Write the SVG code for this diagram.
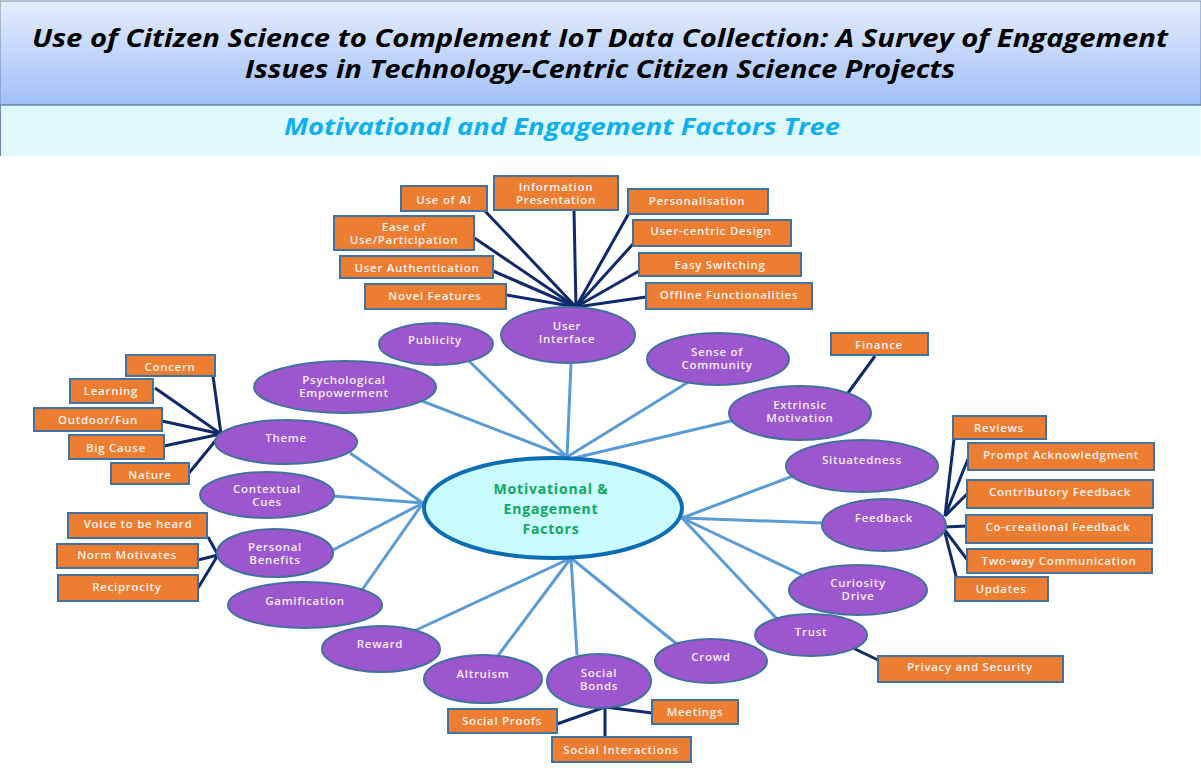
<svg xmlns="http://www.w3.org/2000/svg" width="1201" height="769" viewBox="0 0 1201 769">
<defs>
<linearGradient id="hg" x1="0" y1="0" x2="0" y2="1"><stop offset="0" stop-color="#e6eefc"/><stop offset="0.5" stop-color="#c3d5fa"/><stop offset="1" stop-color="#a1c0f8"/></linearGradient>
</defs>
<style>
text{font-family:"Open Sans","Liberation Sans",sans-serif;text-anchor:middle}
.t{font-size:24.5px;font-weight:700;font-style:italic;fill:#000}
.s{font-size:23px;font-weight:700;font-style:italic;fill:#0cb0ee}
.b rect{fill:#ed7d31;stroke:#41719c;stroke-width:2}
.b text,.e text{font-size:11.5px;font-weight:600;fill:#fdf3ee;letter-spacing:.7px}
.e ellipse{fill:#9c57cf;stroke:#41719c;stroke-width:2}
.e text{fill:#f6ecfb}
.d line{stroke:#0f2a6b;stroke-width:3}
.l line{stroke:#5b9bd5;stroke-width:3}
.c text{font-size:14px;font-weight:700;fill:#10a860;letter-spacing:.8px}
</style>
<rect width="1201" height="769" fill="#fff"/>
<g id="header">
<rect x="0" y="1" width="1201" height="104" fill="url(#hg)" stroke="#6d8aa8" stroke-width="1"/>
<rect x="0.5" y="105" width="1200" height="51" fill="#e0f9fd"/>
<line x1="0.5" y1="105" x2="0.5" y2="156" stroke="#6d8aa8"/>
<line x1="0" y1="105" x2="1201" y2="105" stroke="#6d8aa8" stroke-width="1.5"/>
<text class="t" x="600" y="46.5" textLength="1136" lengthAdjust="spacingAndGlyphs">Use of Citizen Science to Complement IoT Data Collection: A Survey of Engagement</text>
<text class="t" x="600" y="78" textLength="710" lengthAdjust="spacingAndGlyphs">Issues in Technology-Centric Citizen Science Projects</text>
<text class="s" x="562" y="135" textLength="556" lengthAdjust="spacingAndGlyphs">Motivational and Engagement Factors Tree</text>
</g>
<g id="connectors">
<g class="l">
<line x1="567" y1="457" x2="469" y2="361"/><line x1="567" y1="457" x2="571" y2="364"/><line x1="567" y1="457" x2="690" y2="381"/><line x1="567" y1="457" x2="422" y2="401"/><line x1="570" y1="459" x2="735" y2="420"/>
<line x1="423" y1="503" x2="350" y2="453"/><line x1="423" y1="503" x2="332" y2="496"/><line x1="423" y1="503" x2="333" y2="550"/><line x1="423" y1="503" x2="362" y2="590"/>
<line x1="682" y1="518" x2="793" y2="476"/><line x1="682" y1="518" x2="823" y2="523"/><line x1="682" y1="518" x2="802" y2="575"/><line x1="682" y1="518" x2="778" y2="620"/>
<line x1="571" y1="558" x2="412" y2="632"/><line x1="571" y1="558" x2="497" y2="657"/><line x1="571" y1="558" x2="577" y2="655"/><line x1="571" y1="558" x2="678" y2="645"/>
</g>
<g class="d">
<line x1="576" y1="307" x2="484" y2="210"/><line x1="576" y1="307" x2="574" y2="210"/><line x1="576" y1="307" x2="629" y2="213"/><line x1="576" y1="307" x2="633" y2="244"/><line x1="576" y1="307" x2="639" y2="271"/><line x1="576" y1="307" x2="646" y2="297"/><line x1="576" y1="307" x2="473" y2="237"/><line x1="576" y1="307" x2="493" y2="271"/><line x1="576" y1="307" x2="507" y2="295"/>
<line x1="848" y1="393" x2="875" y2="356"/>
<line x1="221" y1="434" x2="213" y2="376"/><line x1="221" y1="434" x2="155" y2="388"/><line x1="221" y1="434" x2="162" y2="421"/><line x1="221" y1="434" x2="164" y2="446"/><line x1="221" y1="434" x2="189" y2="473"/>
<line x1="218" y1="555" x2="208" y2="537"/><line x1="218" y1="555" x2="198" y2="560"/><line x1="218" y1="555" x2="198" y2="588"/>
<line x1="945" y1="516" x2="954" y2="439"/><line x1="945" y1="516" x2="968" y2="459"/><line x1="945" y1="516" x2="967" y2="494"/><line x1="945" y1="527" x2="967" y2="526"/><line x1="944" y1="529" x2="969" y2="562"/><line x1="944" y1="529" x2="956" y2="576"/>
<line x1="853" y1="648" x2="878" y2="660"/>
<line x1="605" y1="707" x2="557" y2="724"/><line x1="605" y1="707" x2="652" y2="713"/><line x1="605" y1="707" x2="605" y2="737"/>
</g>
</g>
<g id="center" class="c"><ellipse cx="553" cy="508" rx="129" ry="50" fill="#c9fbff" stroke="#0b6db5" stroke-width="4"/><text x="551" y="494">Motivational &amp;</text><text x="551" y="514">Engagement</text><text x="551" y="534">Factors</text></g>
<g class="e">
<g id="n-ui"><ellipse cx="568" cy="335" rx="67" ry="28"/><text y="330"><tspan x="567">User</tspan><tspan x="567" dy="13">Interface</tspan></text></g>
<g id="n-pub"><ellipse cx="436" cy="344" rx="57" ry="21"/><text x="435" y="344">Publicity</text></g>
<g id="n-som"><ellipse cx="718" cy="359" rx="71" ry="26"/><text y="356"><tspan x="717">Sense of</tspan><tspan x="717" dy="13">Community</tspan></text></g>
<g id="n-psy"><ellipse cx="345" cy="387" rx="91" ry="26"/><text y="384"><tspan x="344">Psychological</tspan><tspan x="344" dy="13">Empowerment</tspan></text></g>
<g id="n-ext"><ellipse cx="800" cy="413" rx="71" ry="27"/><text y="409"><tspan x="800">Extrinsic</tspan><tspan x="800" dy="13">Motivation</tspan></text></g>
<g id="n-theme"><ellipse cx="286" cy="442" rx="71" ry="22"/><text x="286" y="442">Theme</text></g>
<g id="n-sit"><ellipse cx="862" cy="466" rx="76" ry="26"/><text x="862" y="464">Situatedness</text></g>
<g id="n-ctx"><ellipse cx="267" cy="495" rx="67" ry="23"/><text y="493"><tspan x="267">Contextual</tspan><tspan x="267" dy="13">Cues</tspan></text></g>
<g id="n-fb"><ellipse cx="884" cy="525" rx="62" ry="26"/><text x="884" y="522">Feedback</text></g>
<g id="n-pb"><ellipse cx="275" cy="553" rx="58" ry="24"/><text y="551"><tspan x="275">Personal</tspan><tspan x="275" dy="13">Benefits</tspan></text></g>
<g id="n-cur"><ellipse cx="858" cy="590" rx="69" ry="25"/><text y="587"><tspan x="858">Curiosity</tspan><tspan x="858" dy="13">Drive</tspan></text></g>
<g id="n-gam"><ellipse cx="305" cy="605" rx="77" ry="23"/><text x="305" y="605">Gamification</text></g>
<g id="n-trust"><ellipse cx="811" cy="635" rx="56" ry="21"/><text x="811" y="636">Trust</text></g>
<g id="n-rew"><ellipse cx="381" cy="649" rx="59" ry="23"/><text x="380" y="648">Reward</text></g>
<g id="n-crowd"><ellipse cx="711" cy="661" rx="56" ry="22"/><text x="711" y="661">Crowd</text></g>
<g id="n-alt"><ellipse cx="483" cy="679" rx="59" ry="24"/><text x="483" y="678">Altruism</text></g>
<g id="n-sb"><ellipse cx="599" cy="681" rx="52" ry="27"/><text y="677"><tspan x="599">Social</tspan><tspan x="599" dy="13">Bonds</tspan></text></g>
</g>
<g class="b">
<g id="b1"><rect x="401" y="186" width="86" height="25"/><text x="444" y="204">Use of AI</text></g>
<g id="b2"><rect x="494" y="176" width="124" height="34"/><text y="191"><tspan x="556">Information</tspan><tspan x="556" dy="13">Presentation</tspan></text></g>
<g id="b3"><rect x="628" y="189" width="140" height="25"/><text x="697" y="205">Personalisation</text></g>
<g id="b4"><rect x="633" y="220" width="158" height="26"/><text x="711" y="235">User-centric Design</text></g>
<g id="b5"><rect x="639" y="253" width="162" height="23"/><text x="720" y="269">Easy Switching</text></g>
<g id="b6"><rect x="646" y="283" width="166" height="26"/><text x="729" y="299">Offline Functionalities</text></g>
<g id="b7"><rect x="334" y="216" width="140" height="34"/><text y="231"><tspan x="404">Ease of</tspan><tspan x="404" dy="13">Use/Participation</tspan></text></g>
<g id="b8"><rect x="340" y="256" width="153" height="22"/><text x="417" y="272">User Authentication</text></g>
<g id="b9"><rect x="365" y="284" width="141" height="25"/><text x="435" y="300">Novel Features</text></g>
<g id="b10"><rect x="831" y="333" width="97" height="22"/><text x="879" y="349">Finance</text></g>
<g id="b11"><rect x="126" y="355" width="89" height="21"/><text x="170" y="371">Concern</text></g>
<g id="b12"><rect x="70" y="379" width="83" height="24"/><text x="111" y="395">Learning</text></g>
<g id="b13"><rect x="34" y="408" width="128" height="23"/><text x="98" y="424">Outdoor/Fun</text></g>
<g id="b14"><rect x="69" y="435" width="95" height="24"/><text x="116" y="452">Big Cause</text></g>
<g id="b15"><rect x="111" y="463" width="78" height="21"/><text x="150" y="479">Nature</text></g>
<g id="b16"><rect x="68" y="513" width="139" height="25"/><text x="138" y="528">Voice to be heard</text></g>
<g id="b17"><rect x="57" y="544" width="141" height="24"/><text x="127" y="559">Norm Motivates</text></g>
<g id="b18"><rect x="58" y="575" width="140" height="26"/><text x="127" y="591">Reciprocity</text></g>
<g id="b19"><rect x="953" y="416" width="93" height="23"/><text x="999" y="432">Reviews</text></g>
<g id="b20"><rect x="968" y="443" width="186" height="27"/><text x="1061" y="459">Prompt Acknowledgment</text></g>
<g id="b21"><rect x="967" y="480" width="186" height="28"/><text x="1060" y="496">Contributory Feedback</text></g>
<g id="b22"><rect x="966" y="515" width="186" height="28"/><text x="1058" y="531">Co-creational Feedback</text></g>
<g id="b23"><rect x="967" y="549" width="185" height="24"/><text x="1059" y="565">Two-way Communication</text></g>
<g id="b24"><rect x="955" y="577" width="93" height="24"/><text x="1001" y="593">Updates</text></g>
<g id="b25"><rect x="878" y="656" width="185" height="26"/><text x="970" y="671">Privacy and Security</text></g>
<g id="b26"><rect x="448" y="709" width="109" height="24"/><text x="502" y="725">Social Proofs</text></g>
<g id="b27"><rect x="652" y="700" width="86" height="24"/><text x="695" y="716">Meetings</text></g>
<g id="b28"><rect x="552" y="737" width="139" height="25"/><text x="621" y="754">Social Interactions</text></g>
</g>
</svg>
